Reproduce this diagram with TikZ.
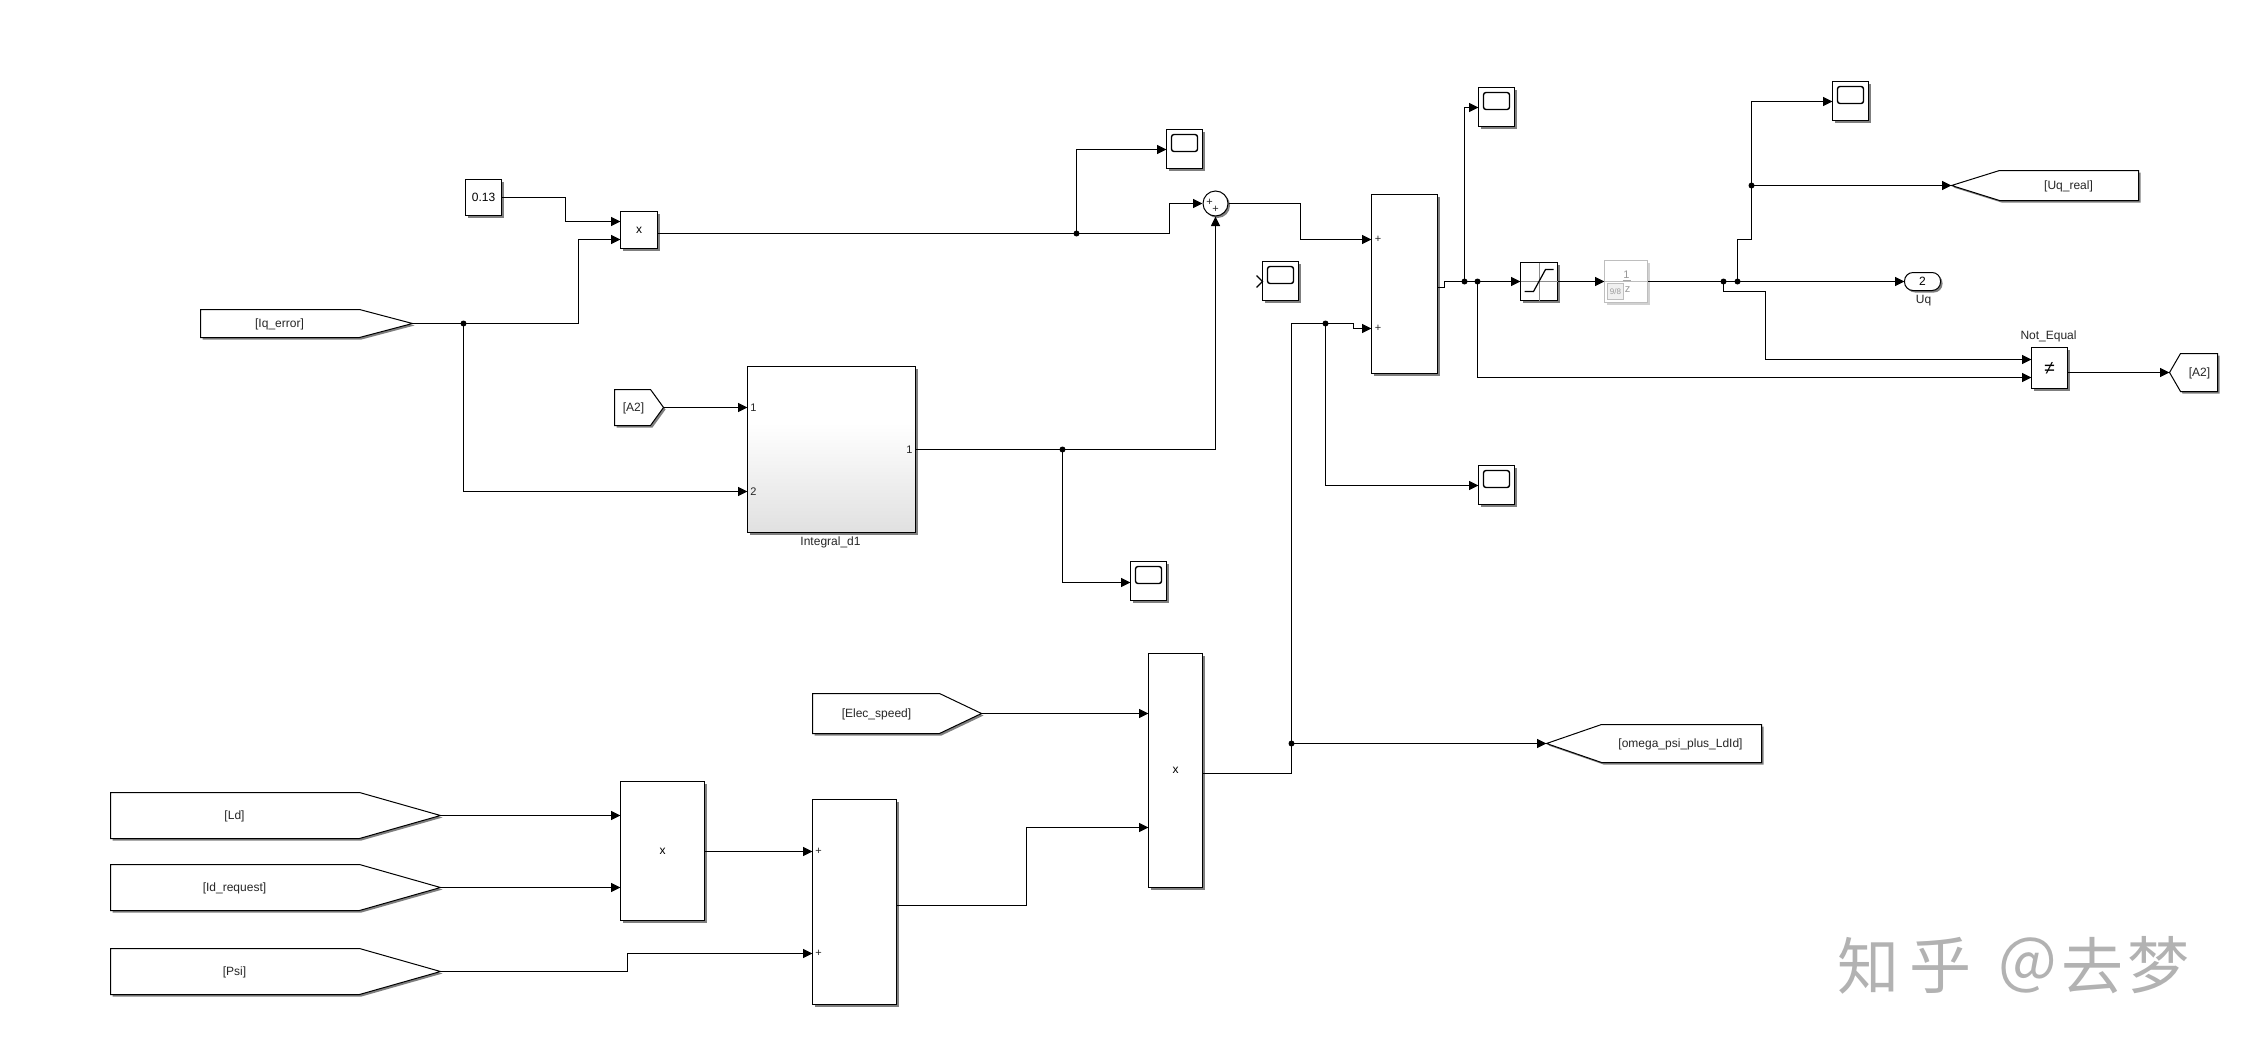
\documentclass[tikz,border=0pt]{standalone}
\usepackage{fontspec}
\setmainfont{Liberation Sans}
\newfontfamily\cjkwm{Noto Sans CJK SC}
\usetikzlibrary{arrows.meta,shadows}
\definecolor{dlygray}{RGB}{190,190,190}
\pgfdeclareverticalshading{subsysshade}{100bp}{color(0bp)=(black!12); color(25bp)=(black!12); color(58bp)=(white); color(100bp)=(white)}
\tikzset{
  x=1pt,y=-1pt,
  softshadow/.style={drop shadow={shadow xshift=2pt,shadow yshift=-2pt,opacity=.5,fill=black}},
  blockbox/.style={draw=black,line width=1pt,fill=white,rectangle,inner sep=0pt,outer sep=0pt,softshadow,font=\fontsize{12}{14}\selectfont},
  tagshape/.style={draw=black,line width=1pt,fill=white,softshadow},
  lbl/.style={inner sep=0pt,outer sep=0pt,font=\fontsize{12}{14}\selectfont,text=black!85},
  sgn/.style={inner sep=0pt,outer sep=0pt,font=\fontsize{11}{12}\selectfont,text=black!85},
  wire/.style={line width=1pt,line join=miter},
  wirea/.style={wire,-{Triangle[length=9.5pt,width=9pt]}},
  junction/.style={circle,fill=black,inner sep=0pt,minimum size=6pt,outer sep=0pt},
  screenbox/.style={draw=black,line width=1.4pt,rounded corners=2.5pt,fill=white},
  wmark/.style={inner sep=0pt,text=black!30,font=\cjkwm\fontsize{62}{66}\selectfont},
}
% [extra style] name, x1, y1, x2, y2, text
\newcommand{\blk}[7][]{%
  \pgfmathsetmacro{\bw}{#5-#3}\pgfmathsetmacro{\bh}{#6-#4}%
  \pgfmathsetmacro{\bx}{(#3+#5)/2}\pgfmathsetmacro{\by}{(#4+#6)/2}%
  \node[blockbox,minimum width=\bw pt,minimum height=\bh pt,#1] (#2) at (\bx,\by) {#7};}
% name, x1, y1 (scope of 36 x 39)
\newcommand{\scopeblk}[3]{%
  \pgfmathsetmacro{\bx}{#2+18}\pgfmathsetmacro{\by}{#3+19.5}%
  \node[blockbox,minimum width=36pt,minimum height=39pt] (#1) at (\bx,\by) {};
  \draw[screenbox] (#2+5,#3+5) rectangle (#2+31,#3+22);}
% name, xa, xb, xtip, y1, y2, textx, text
\newcommand{\tagblk}[8]{%
  \pgfmathsetmacro{\bm}{(#5+#6)/2}%
  \draw[tagshape] (#2,#5) -- (#3,#5) -- (#4,\bm) -- (#3,#6) -- (#2,#6) -- cycle;
  \coordinate (#1-tip) at (#4,\bm);
  \node[lbl,yshift=-1pt] (#1) at (#7,\bm) {#8};}
\begin{document}
\begin{tikzpicture}
\useasboundingbox (0,0) rectangle (2245,1057);
\fill[white] (0,0) rectangle (2245,1057);
\begin{scope}[shift={(0.5,0.5)}]

% source tags
\tagblk{iq}{200}{359}{412}{309}{337}{279}{[Iq\_error]}
\tagblk{aa}{614}{650}{663}{389}{425}{633}{[A2]}
\tagblk{elec}{812}{939}{981}{693}{733}{876}{[Elec\_speed]}
\tagblk{ld}{110}{359}{440}{792}{838}{234}{[Ld]}
\tagblk{idr}{110}{359}{440}{864}{910}{234}{[Id\_request]}
\tagblk{psi}{110}{359}{440}{948}{994}{234}{[Psi]}
% sink tags
\tagblk{uqr}{2138}{1999}{1951}{170}{200}{2068}{[Uq\_real]}
\tagblk{omg}{1761}{1601}{1546}{724}{762}{1680}{[omega\_psi\_plus\_LdId]}
\tagblk{ab}{2217}{2180}{2169}{353}{391}{2199}{[A2]}

% blocks
\blk{cst}{465}{179}{501}{215}{0.13}
\blk{pa}{620}{211}{657}{248}{x}
\blk{pb}{620}{781}{704}{920}{x}
\blk{pc}{1148}{653}{1202}{887}{x}
\blk{sb}{812}{799}{896}{1004}{}
\blk{sa}{1371}{194}{1437}{373}{}
\blk[shading=subsysshade]{sub}{747}{366}{915}{532}{}
\node[lbl] (sublbl) at (830,542) {Integral\_d1};
\node[sgn] (su1) at (753,407) {1};
\node[sgn] (su2) at (753,491) {2};
\node[sgn] (su3) at (909,449) {1};
\node[sgn] (sg1) at (1377.5,239) {+};
\node[sgn] (sg2) at (1377.5,328) {+};
\node[sgn] (sg3) at (818,851) {+};
\node[sgn] (sg4) at (818,953) {+};

% small sum
\node[circle,draw=black,line width=1pt,fill=white,minimum size=25pt,inner sep=0pt,outer sep=0pt,softshadow] (ssum) at (1215,203) {};
\node[sgn] (sg5) at (1209,202) {+};
\node[sgn] (sg6) at (1215,209) {+};

% scopes
\scopeblk{sc1}{1166}{129}
\scopeblk{sc2}{1130}{561}
\scopeblk{sc3}{1478}{87}
\scopeblk{sc4}{1832}{81}
\scopeblk{sc5}{1262}{261}
\scopeblk{sc6}{1478}{465}
\draw[line width=1.1pt] (1256,275) -- (1262,281) -- (1256,287);

% saturation
\blk{sat}{1520}{262}{1557}{300}{}
\draw[black!45,line width=.8pt] (sat.west) -- (sat.east) (sat.north) -- (sat.south);
\draw[line width=1.2pt] (1524,291) -- (1533,291) -- (1545,269) -- (1553,269);

% unit delay (greyed)
\node[draw=dlygray,line width=1pt,fill=white,rectangle,minimum width=43pt,minimum height=42pt,inner sep=0pt,outer sep=0pt,drop shadow={shadow xshift=2pt,shadow yshift=-2pt,opacity=.18,fill=black}] (dly) at (1625.5,281) {};
\draw[dlygray,line width=.8pt] (dly.west) -- (dly.east);
\node[sgn,text=black!40] (dl1) at (1626,274) {1};
\node[sgn,text=black!40] (dl2) at (1627,289) {z};
\draw[black!35,line width=.8pt] (1622,280) -- (1630,280);
\draw[dlygray,line width=.8pt,fill=black!6] (1607,283) rectangle (1623,299);
\node[inner sep=0pt,font=\fontsize{8}{9}\selectfont,text=black!40] (dl3) at (1615,291) {9/8};

% outport
\node[draw=black,line width=1pt,fill=white,minimum width=36pt,minimum height=18pt,inner sep=0pt,outer sep=0pt,rounded corners=8.5pt,softshadow,font=\fontsize{12}{14}\selectfont] (outp) at (1922,281) {2};
\node[lbl] (uqlbl) at (1923,300.5) {Uq};

% not equal
\blk[font=\fontsize{19}{20}\selectfont]{neq}{2031}{347}{2067}{388}{≠}
\node[lbl] (neqlbl) at (2048,336) {Not\_Equal};

% ports
\coordinate (pa1) at (620,221);
\coordinate (pa2) at (620,239);
\coordinate (pao) at (657,233);
\coordinate (sub1) at (747,407);
\coordinate (sub2) at (747,491);
\coordinate (subo) at (915,449);
\coordinate (pb1) at (620,815);
\coordinate (pb2) at (620,887);
\coordinate (pbo) at (704,851);
\coordinate (sb1) at (812,851);
\coordinate (sb2) at (812,953);
\coordinate (sbo) at (896,905);
\coordinate (pc1) at (1148,713);
\coordinate (pc2) at (1148,827);
\coordinate (pco) at (1202,773);
\coordinate (sa1) at (1371,239);
\coordinate (sa2) at (1371,328);
\coordinate (sao) at (1437,287);
\coordinate (ne1) at (2031,359);
\coordinate (ne2) at (2031,377);
\coordinate (neo) at (2067,372);
\coordinate (sc1i) at (1166,149);
\coordinate (sc2i) at (1130,582);
\coordinate (sc3i) at (1478,107);
\coordinate (sc4i) at (1832,101);
\coordinate (sc6i) at (1478,485);
\coordinate (ssl) at (1202,203);
\coordinate (ssr) at (1228,203);
\coordinate (ssb) at (1215,216);

% junctions
\node[junction] (j1) at (463,323) {};
\node[junction] (j2) at (1076,233) {};
\node[junction] (j3) at (1062,449) {};
\node[junction] (j4) at (1325,323) {};
\node[junction] (j5) at (1291,743) {};
\node[junction] (j6) at (1464,281) {};
\node[junction] (j7) at (1477,281) {};
\node[junction] (j8) at (1723,281) {};
\node[junction] (j9) at (1737,281) {};
\node[junction] (j10) at (1751,185) {};

% wires: top-left
\draw[wirea] (cst.east) -- (565,197) -- (565,221) -- (pa1);
\draw[wire] (iq-tip) -- (j1.center);
\draw[wirea] (j1.center) -- (578,323) -- (578,239) -- (pa2);
\draw[wirea] (j1.center) -- (463,491) -- (sub2);
\draw[wirea] (aa-tip) -- (sub1);
\draw[wire] (pao) -- (j2.center);
\draw[wirea] (j2.center) -- (1076,149) -- (sc1i);
\draw[wirea] (j2.center) -- (1169,233) -- (1169,203) -- (ssl);
\draw[wire] (subo) -- (j3.center);
\draw[wirea] (j3.center) -- (1215,449) -- (ssb);
\draw[wirea] (j3.center) -- (1062,582) -- (sc2i);
\draw[wirea] (ssr) -- (1300,203) -- (1300,239) -- (sa1);

% wires: bottom
\draw[wirea] (ld-tip) -- (pb1);
\draw[wirea] (idr-tip) -- (pb2);
\draw[wirea] (pbo) -- (sb1);
\draw[wirea] (psi-tip) -- (627,971) -- (627,953) -- (sb2);
\draw[wirea] (sbo) -- (1026,905) -- (1026,827) -- (pc2);
\draw[wirea] (elec-tip) -- (pc1);
\draw[wire] (pco) -- (1291,773) -- (j5.center);
\draw[wire] (j5.center) -- (1291,323) -- (j4.center);
\draw[wirea] (j5.center) -- (omg-tip);
\draw[wirea] (j4.center) -- (1353,323) -- (1353,328) -- (sa2);
\draw[wirea] (j4.center) -- (1325,485) -- (sc6i);

% wires: right
\draw[wire] (sao) -- (1444,287) -- (1444,281) -- (j6.center);
\draw[wire] (j6.center) -- (j7.center);
\draw[wirea] (j6.center) -- (1464,107) -- (sc3i);
\draw[wirea] (j7.center) -- (sat.west);
\draw[wirea] (j7.center) -- (1477,377) -- (ne2);
\draw[wirea] (sat.east) -- (dly.west);
\draw[wire] (dly.east) -- (j8.center);
\draw[wire] (j8.center) -- (j9.center);
\draw[wirea] (j9.center) -- (outp.west);
\draw[wire] (j9.center) -- (1737,239) -- (1751,239) -- (j10.center);
\draw[wirea] (j10.center) -- (1751,101) -- (sc4i);
\draw[wirea] (j10.center) -- (uqr-tip);
\draw[wirea] (j8.center) -- (1723,291) -- (1765,291) -- (1765,359) -- (ne1);
\draw[wirea] (neo) -- (ab-tip);

% watermark
\node[wmark] (wm1) at (1868,965) {知};
\node[wmark] (wm2) at (1940,965) {乎};
\node[wmark] (wm3) at (2027,965) {@};
\node[wmark] (wm4) at (2092,965) {去};
\node[wmark] (wm5) at (2158,965) {梦};
\end{scope}
\end{tikzpicture}
\end{document}
